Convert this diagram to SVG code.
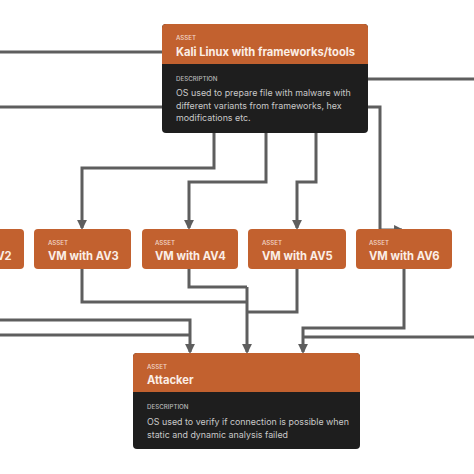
<svg xmlns="http://www.w3.org/2000/svg" width="474" height="474" viewBox="0 0 474 474">
<defs>
<style>
.hdr{fill:#c2612f}
.body{fill:#1e1e1e}
.lbl{font-family:Inter,"Liberation Sans",sans-serif;font-size:6.2px;font-weight:500;fill:#f3d9cb}
.dlbl{font-family:Inter,"Liberation Sans",sans-serif;font-size:6.2px;font-weight:500;fill:#b8b8b8}
.ttl{font-family:Inter,"Liberation Sans",sans-serif;font-size:11.2px;font-weight:700;fill:#fbeee6}
.desc{font-family:Inter,"Liberation Sans",sans-serif;font-size:8.9px;fill:#c9c9c9}
.ln{fill:none;stroke:#5e5e5e;stroke-width:3}
</style>
<marker id="ah" viewBox="0 0 10 10" refX="8" refY="5" markerWidth="3.3" markerHeight="3.3" orient="auto" markerUnits="strokeWidth">
<path d="M0,0 L10,5 L0,10 z" fill="#5e5e5e"/>
</marker>
</defs>
<rect width="474" height="474" fill="#ffffff"/>
<g id="connectors">
<path class="ln" d="M0,52 H163"/>
<path class="ln" d="M0,107 H163"/>
<path class="ln" d="M367,79 H474"/>
<path class="ln" d="M367,107 H380 V230 H402" marker-end="url(#ah)"/>
<path class="ln" d="M214,133 V168 H82 V228" marker-end="url(#ah)"/>
<path class="ln" d="M266,133 V182 H189 V228" marker-end="url(#ah)"/>
<path class="ln" d="M316,133 V182 H297 V228" marker-end="url(#ah)"/>
<path class="ln" d="M82,269 V302 H247"/>
<path class="ln" d="M189,269 V287 H247"/>
<path class="ln" d="M297,269 V312 H247"/>
<path class="ln" d="M247,287 V352" marker-end="url(#ah)"/>
<path class="ln" d="M404,269 V328 H303 V352" marker-end="url(#ah)"/>
<path class="ln" d="M474,337 H303"/>
<path class="ln" d="M0,320 H190 V352" marker-end="url(#ah)"/>
<path class="ln" d="M0,335 H190"/>
</g>
<g id="kali">
<rect class="body" x="162" y="24" width="206" height="109" rx="4"/>
<path class="hdr" d="M162,64 V28 a4,4 0 0 1 4,-4 H364 a4,4 0 0 1 4,4 V64 z"/>
<text class="lbl" x="176" y="40">ASSET</text>
<text class="ttl" x="176" y="56">Kali Linux with frameworks/tools</text>
<text class="dlbl" x="176" y="81">DESCRIPTION</text>
<text class="desc" x="176" y="96">OS used to prepare file with malware with</text>
<text class="desc" x="176" y="109">different variants from frameworks, hex</text>
<text class="desc" x="176" y="121">modifications etc.</text>
</g>
<g id="av2">
<rect class="hdr" x="-73" y="229" width="97" height="40" rx="4"/>
<text class="lbl" x="-59" y="245">ASSET</text>
<text class="ttl" x="-59" y="260">VM with AV2</text>
</g>
<g id="av3">
<rect class="hdr" x="34" y="229" width="97" height="40" rx="4"/>
<text class="lbl" x="48" y="245">ASSET</text>
<text class="ttl" x="48" y="260">VM with AV3</text>
</g>
<g id="av4">
<rect class="hdr" x="142" y="229" width="96" height="40" rx="4"/>
<text class="lbl" x="155" y="245">ASSET</text>
<text class="ttl" x="155" y="260">VM with AV4</text>
</g>
<g id="av5">
<rect class="hdr" x="248" y="229" width="98" height="40" rx="4"/>
<text class="lbl" x="262" y="245">ASSET</text>
<text class="ttl" x="262" y="260">VM with AV5</text>
</g>
<g id="av6">
<rect class="hdr" x="356" y="229" width="96" height="40" rx="4"/>
<text class="lbl" x="369" y="245">ASSET</text>
<text class="ttl" x="369" y="260">VM with AV6</text>
</g>
<g id="attacker">
<rect class="body" x="133" y="353" width="227" height="96" rx="4"/>
<path class="hdr" d="M133,392 V357 a4,4 0 0 1 4,-4 H356 a4,4 0 0 1 4,4 V392 z"/>
<text class="lbl" x="147" y="369">ASSET</text>
<text class="ttl" x="147" y="384">Attacker</text>
<text class="dlbl" x="147" y="409">DESCRIPTION</text>
<text class="desc" x="147" y="425">OS used to verify if connection is possible when</text>
<text class="desc" x="147" y="438">static and dynamic analysis failed</text>
</g>
</svg>
